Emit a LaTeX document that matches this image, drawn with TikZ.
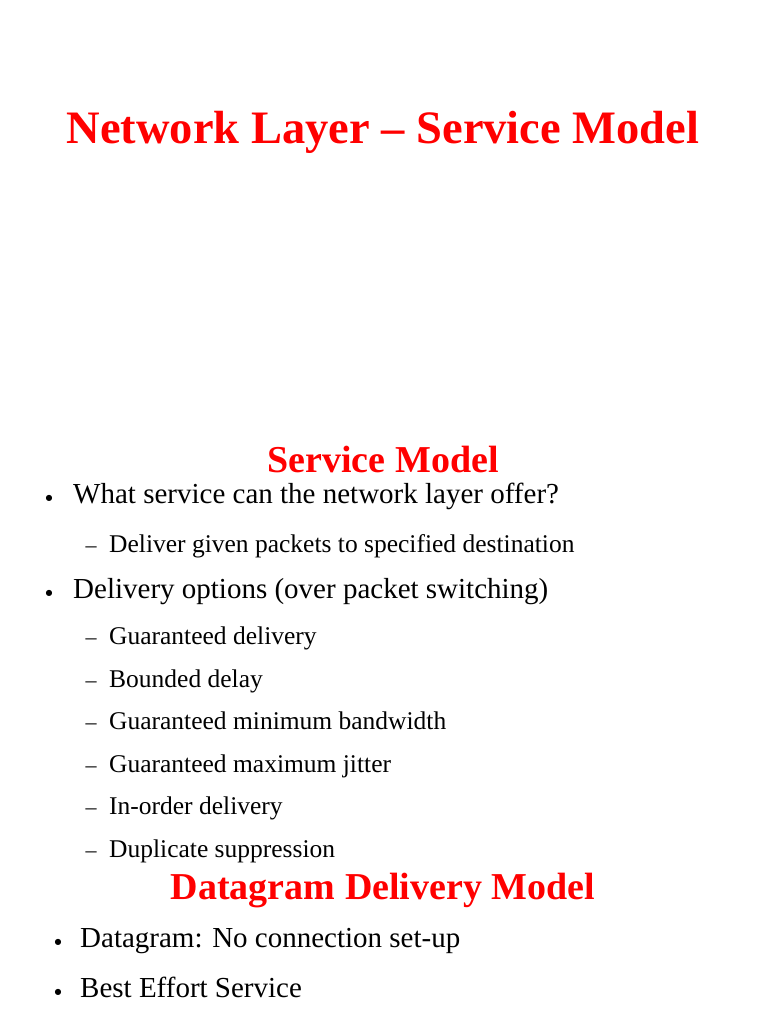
\documentclass[tikz,border=0pt]{standalone}
\usepackage{fontspec}
\setmainfont{Liberation Serif}
\newfontfamily\symfont{DejaVu Sans}
\begin{document}
\begin{tikzpicture}[x=1pt,y=-1pt,
  head/.style={text=red,font=\bfseries\fontsize{38}{44}\selectfont,inner sep=0},
  lvone/.style={anchor=base west,font=\fontsize{29}{33}\selectfont,inner sep=0},
  lvtwo/.style={anchor=base west,font=\fontsize{25.5}{29}\selectfont,inner sep=0},
  dot/.style={anchor=base,font=\symfont\fontsize{8}{10}\selectfont,inner sep=0},
  dsh/.style={anchor=base,font=\fontsize{22}{26}\selectfont,inner sep=0}]
\useasboundingbox (0,0) rectangle (768,1024);
\node[text=red,font=\bfseries\fontsize{46.5}{52}\selectfont,inner sep=0] (title) at (383,132) {Network Layer -- Service Model};
\node[head] (h1) at (383,459) {Service Model};
\node[head] (h2) at (383,890) {Datagram Delivery Model};
\foreach \y/\t [count=\i] in {503/{What service can the network layer offer?},598/{Delivery options (over packet switching)}}{
  \node[dot] (d\i) at (49,\y-3) {●};
  \node[lvone] (b\i) at (73,\y) {\t};}
\foreach \y/\t [count=\i] in {552/{Deliver given packets to specified destination},644/{Guaranteed delivery},687/{Bounded delay},729/{Guaranteed minimum bandwidth},772/{Guaranteed maximum jitter},814/{In-order delivery},857/{Duplicate suppression}}{
  \node[dsh] (s\i) at (91,\y) {--};
  \node[lvtwo] (t\i) at (109,\y) {\t};}
\foreach \y/\t [count=\i] in {947/{Datagram: No connection set-up},997/{Best Effort Service}}{
  \node[dot] (e\i) at (58,\y-3) {●};
  \node[lvone] (c\i) at (80,\y) {\t};}
\end{tikzpicture}
\end{document}
